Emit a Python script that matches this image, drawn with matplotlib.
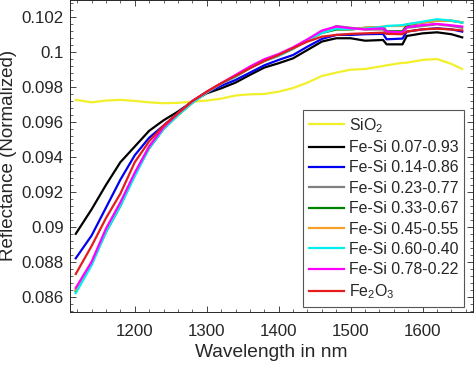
import numpy as np
import matplotlib
matplotlib.use("Agg")
from matplotlib import pyplot as plt
from matplotlib.ticker import MultipleLocator

plt.rcParams['font.family'] = ['Liberation Sans', 'DejaVu Sans']
plt.rcParams['mathtext.fontset'] = 'custom'
plt.rcParams['mathtext.rm'] = 'Liberation Sans'

#%% data
wl = [1118, 1140, 1160, 1180, 1200, 1220, 1240, 1260, 1280, 1300, 1320, 1340,
      1360, 1380, 1400, 1420, 1440, 1460, 1480, 1500, 1520, 1545, 1550, 1572,
      1578, 1600, 1620, 1640, 1655]

sio2 = [0.09727, 0.09713, 0.09723, 0.09727, 0.09721, 0.09713, 0.09708, 0.09710,
        0.09717, 0.09723, 0.09734, 0.09752, 0.09759, 0.09761, 0.09774, 0.09795,
        0.09826, 0.09864, 0.09883, 0.09900, 0.09904, 0.09921, 0.09925, 0.09939,
        0.09940, 0.09956, 0.09961, 0.09933, 0.09904]
fesi_07 = [0.0896, 0.0910, 0.0924, 0.0937, 0.0946, 0.0955, 0.0961, 0.0966,
           0.09717, 0.09765, 0.09793, 0.09826, 0.0987, 0.09912, 0.09937, 0.09965,
           0.10013, 0.10061, 0.1008, 0.1008, 0.10066, 0.1007, 0.10045, 0.10045,
           0.10093, 0.10108, 0.10114, 0.10103, 0.10085]
fesi_14 = [0.0882, 0.0895, 0.0911, 0.0927, 0.0941, 0.0951, 0.0958, 0.0965,
           0.0972, 0.09769, 0.09807, 0.09841, 0.09883, 0.09925, 0.09956, 0.09984,
           0.10032, 0.10076, 0.10099, 0.10099, 0.10103, 0.10105, 0.10074, 0.10078,
           0.10118, 0.10131, 0.10137, 0.10131, 0.10118]
fesi_23 = [0.0864, 0.0879, 0.0898, 0.0913, 0.0930, 0.0946, 0.0957, 0.0965,
           0.0972, 0.09772, 0.0982, 0.09865, 0.09912, 0.09955, 0.09986, 0.10025,
           0.1007, 0.10115, 0.1015, 0.1014, 0.1013, 0.1013, 0.1011, 0.1011,
           0.1014, 0.1015, 0.1016, 0.1015, 0.1014]
fesi_33 = [0.0863, 0.0879, 0.0897, 0.0912, 0.0930, 0.0945, 0.0956, 0.0964,
           0.0971, 0.0977, 0.0982, 0.0986, 0.0991, 0.0995, 0.0998, 0.1002,
           0.1007, 0.1011, 0.1013, 0.1013, 0.1014, 0.10145, 0.1012, 0.1012,
           0.10155, 0.1017, 0.1018, 0.1018, 0.1017]
fesi_45 = [0.0864, 0.0879, 0.0898, 0.0913, 0.0930, 0.0946, 0.0956, 0.0964,
           0.0971, 0.0977, 0.0982, 0.0986, 0.0991, 0.0995, 0.0998, 0.1002,
           0.1007, 0.1011, 0.1014, 0.1013, 0.1014, 0.10145, 0.1015, 0.1015,
           0.1016, 0.1017, 0.1018, 0.1018, 0.10172]
fesi_60 = [0.0862, 0.0878, 0.0897, 0.0912, 0.0929, 0.0945, 0.0956, 0.0964,
           0.0971, 0.0977, 0.0982, 0.0986, 0.0991, 0.0995, 0.0998, 0.1002,
           0.1007, 0.1011, 0.10135, 0.10132, 0.10135, 0.10145, 0.1015, 0.10155,
           0.1016, 0.10175, 0.10189, 0.10181, 0.1017]
fesi_78 = [0.0865, 0.0880, 0.0899, 0.0914, 0.0931, 0.0946, 0.0957, 0.0965,
           0.0972, 0.09774, 0.09822, 0.0987, 0.09918, 0.0996, 0.0999, 0.10028,
           0.10074, 0.10124, 0.10147, 0.10137, 0.10131, 0.10137, 0.10118, 0.10114,
           0.10143, 0.10156, 0.10162, 0.10154, 0.10147]
fe2o3 = [0.0873, 0.0889, 0.0905, 0.0919, 0.0937, 0.0949, 0.0958, 0.0965,
         0.0972, 0.09774, 0.09822, 0.09864, 0.09908, 0.0995, 0.09984, 0.10023,
         0.10061, 0.10089, 0.10099, 0.10105, 0.10108, 0.10112, 0.10105, 0.10103,
         0.10118, 0.10131, 0.10135, 0.1013, 0.10125]

series = [sio2, fesi_07, fesi_14, fesi_23, fesi_33, fesi_45, fesi_60, fesi_78, fe2o3]
labels = [r'SiO$_2$', 'Fe-Si 0.07-0.93', 'Fe-Si 0.14-0.86', 'Fe-Si 0.23-0.77',
          'Fe-Si 0.33-0.67', 'Fe-Si 0.45-0.55', 'Fe-Si 0.60-0.40',
          'Fe-Si 0.78-0.22', r'Fe$_2$O$_3$']
colors = ['#f2f02a', '#000000', '#0000f0', '#808080', '#008000', '#f5a028',
          '#00f0f0', '#ff00ff', '#e41c1c']

#%% plot
fig = plt.figure(figsize=(4.74, 3.66), dpi=100)
ax = fig.add_axes([70/474, (366-311.7)/366, 403/474, 311.7/366])

for yy, lab, c in zip(series, labels, colors):
    ax.plot(wl, yy, color=c, lw=1.6, label=lab)

ax.set_xlim(1110, 1670)
ax.set_ylim(0.08514, 0.10299)
ax.xaxis.set_major_locator(MultipleLocator(100))
ax.xaxis.set_minor_locator(MultipleLocator(20))
ax.yaxis.set_minor_locator(MultipleLocator(0.0004))
ax.set_yticks([0.086, 0.088, 0.09, 0.092, 0.094, 0.096, 0.098, 0.1, 0.102])
ax.set_yticklabels(['0.086', '0.088', '0.09', '0.092', '0.094', '0.096',
                    '0.098', '0.1', '0.102'])

dark = '#262626'
ax.tick_params(which='both', direction='in', top=True, right=True,
               colors=dark, labelsize=12.2)
ax.tick_params(which='major', length=4, width=0.6)
ax.tick_params(which='minor', length=2, width=0.5)
ax.tick_params(axis='x', which='major', pad=8.5)
ax.tick_params(axis='y', which='major', pad=4.5)
for s in ax.spines.values():
    s.set_color(dark)
    s.set_linewidth(0.7)

ax.set_xlabel('Wavelength in nm', fontsize=13.8, color=dark, labelpad=4)
ax.set_ylabel('Reflectance (Normalized)', fontsize=13.5, color=dark, labelpad=3)

leg = ax.legend(loc='lower right', bbox_to_anchor=(0.978, 0.015),
                borderaxespad=0, fontsize=11.4, handlelength=2.25,
                handletextpad=0.3, labelspacing=0.34, borderpad=0.35,
                fancybox=False, framealpha=1)
leg.get_frame().set_edgecolor('#555555')
leg.get_frame().set_linewidth(0.8)
for t in leg.get_texts():
    t.set_color(dark)

plt.savefig('out.png', dpi=100)
